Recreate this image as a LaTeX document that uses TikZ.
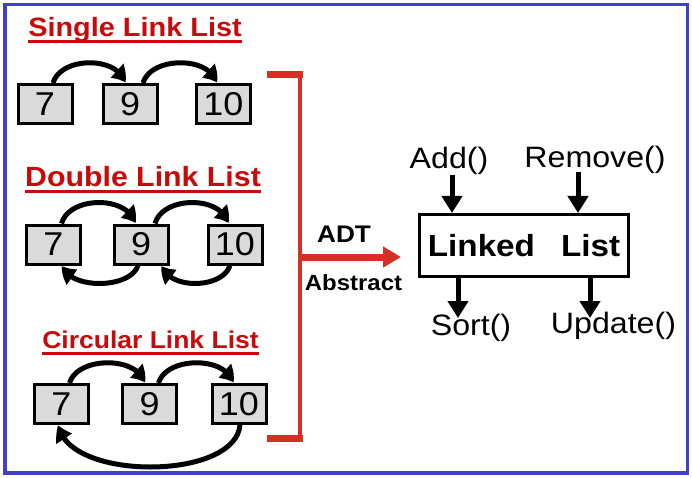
\documentclass[tikz,border=0pt]{standalone}
\usepackage{fontspec}
\setmainfont{Liberation Sans}[FakeStretch=1.09]
\usetikzlibrary{arrows.meta,bending}
\definecolor{frameblue}{RGB}{64,64,204}
\definecolor{titlered}{RGB}{200,10,10}
\definecolor{brkred}{RGB}{214,48,36}
\definecolor{boxgray}{RGB}{218,218,218}
\tikzset{
  numbox/.style={draw, line width=3pt, fill=boxgray, minimum width=54pt, minimum height=39pt, inner sep=0pt, font=\fontsize{33}{33}\selectfont},
  titletext/.style={anchor=base, inner sep=0pt, text=titlered},
  uline/.style={titlered, line width=3pt},
  linkarrow/.style={line width=5pt, -{Triangle[length=15pt,width=18pt,bend]}},
  methodtext/.style={anchor=base, inner sep=0pt, font=\fontsize{29.5}{29.5}\selectfont},
  methodarrow/.style={line width=5pt, -{Triangle[length=17pt,width=20pt]}},
  adttext/.style={anchor=base, inner sep=0pt}
}
\begin{document}
\begin{tikzpicture}[x=1pt,y=-1pt]
\useasboundingbox (0,0) rectangle (692,478);
\fill[white] (0,0) rectangle (692,478);
\draw[frameblue, line width=3.5pt] (4.75,4.75) rectangle (687.25,472.75);

% Single link list
\node[titletext, font=\fontsize{26.5}{26.5}\selectfont\bfseries] (t1) at (135,37) {Single Link List};
\draw[uline] ([yshift=-5pt]t1.base west) -- ([yshift=-5pt]t1.base east);
\node[numbox] (s7) at (45,104) {7};
\node[numbox] (s9) at (130,104) {9};
\node[numbox] (s10) at (223.5,104) {10};
\draw[linkarrow] ([xshift=8pt]s7.north) .. controls +(8,-27) and +(-6,-27) .. ([xshift=-5pt]s9.north);
\draw[linkarrow] ([xshift=13pt]s9.north) .. controls +(8,-27) and +(-6,-27) .. ([xshift=-7pt]s10.north);

% Double link list
\node[titletext, font=\fontsize{27.8}{27.8}\selectfont\bfseries] (t2) at (143,187) {Double Link List};
\draw[uline] ([yshift=-5pt]t2.base west) -- ([yshift=-5pt]t2.base east);
\node[numbox] (d7) at (53.5,244.5) {7};
\node[numbox] (d9) at (141,244.5) {9};
\node[numbox] (d10) at (235,244.5) {10};
\draw[linkarrow] ([xshift=8pt]d7.north) .. controls +(8,-28) and +(-6,-28) .. ([xshift=-6pt]d9.north);
\draw[linkarrow] ([xshift=14pt]d9.north) .. controls +(8,-28) and +(-6,-28) .. ([xshift=-7pt]d10.north);
\draw[linkarrow] ([xshift=-3pt]d9.south) .. controls +(-8,24) and +(6,24) .. ([xshift=9pt]d7.south);
\draw[linkarrow] ([xshift=-5pt]d10.south) .. controls +(-8,24) and +(6,24) .. ([xshift=21pt]d9.south);

% Circular link list
\node[titletext, font=\fontsize{24.3}{24.3}\selectfont\bfseries] (t3) at (150.5,348) {Circular Link List};
\draw[uline] ([yshift=-5pt]t3.base west) -- ([yshift=-5pt]t3.base east);
\node[numbox] (c7) at (61.5,404) {7};
\node[numbox] (c9) at (149.5,404) {9};
\node[numbox] (c10) at (239,404) {10};
\draw[linkarrow] ([xshift=8pt]c7.north) .. controls +(8,-27) and +(-6,-27) .. ([xshift=-5pt]c9.north);
\draw[linkarrow] ([xshift=9pt]c9.north) .. controls +(8,-27) and +(-6,-27) .. ([xshift=-6pt]c10.north);
\draw[linkarrow] ([xshift=1pt]c10.south) .. controls +(-5,56) and +(8,56) .. ([xshift=-3pt]c7.south);

% Red bracket and ADT arrow
\coordinate (bt0) at (267,75);
\coordinate (bt1) at (300,75);
\coordinate (bb0) at (267,438);
\coordinate (bb1) at (300,438);
\coordinate (bm) at (300,257);
\coordinate (adtend) at (401,257);
\draw[brkred, line width=7pt] (bt0) -- ([xshift=3pt]bt1);
\draw[brkred, line width=7pt] (bb0) -- ([xshift=3pt]bb1);
\draw[brkred, line width=3.5pt] (bt1) -- (bb1);
\draw[brkred, line width=7pt, -{Triangle[length=18pt,width=20pt]}] (bm) -- (adtend);
\node[adttext, font=\fontsize{24}{24}\selectfont\bfseries] (adt) at (344,242) {ADT};
\node[adttext, font=\fontsize{22}{22}\selectfont\bfseries] (abs) at (353.5,290) {Abstract};

% Linked list box
\node[draw, line width=3pt, minimum width=209pt, minimum height=62pt, inner sep=0pt, font=\fontsize{30.5}{30.5}\selectfont\bfseries] (ll) at (524,245.5) {Linked\hspace{26pt}List};
\node[methodtext] (add) at (449,169) {Add()};
\node[methodtext] (rem) at (595,168) {Remove()};
\node[methodtext] (sort) at (471,335) {Sort()};
\node[methodtext] (upd) at (613.5,333) {Update()};
\coordinate (addtop) at (452,175);
\coordinate (remtop) at (578,172);
\coordinate (sortend) at (458,318);
\coordinate (updend) at (590,318);
\draw[methodarrow] (addtop) -- (addtop |- ll.north);
\draw[methodarrow] (remtop) -- (remtop |- ll.north);
\draw[methodarrow] (sortend |- ll.south) -- (sortend);
\draw[methodarrow] (updend |- ll.south) -- (updend);
\end{tikzpicture}
\end{document}
